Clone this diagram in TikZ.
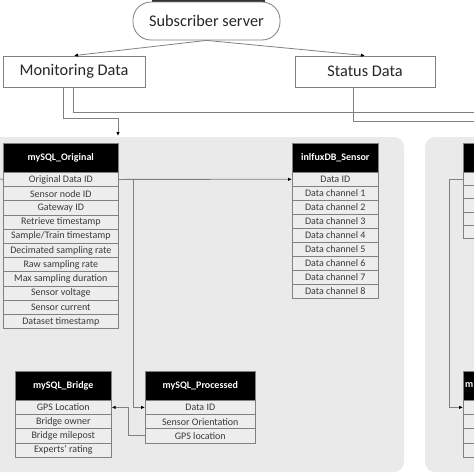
\documentclass[tikz,border=0pt]{standalone}
\usepackage{fontspec}
\setmainfont{Carlito}
\usetikzlibrary{arrows.meta}
\definecolor{panelgray}{HTML}{EAEAEA}
\definecolor{rowgray}{HTML}{EDEDED}
\definecolor{linegray}{HTML}{808080}
\definecolor{txtgray}{HTML}{3A3A3A}
\tikzset{
  conn/.style={draw=linegray, line width=0.8pt},
  tip/.style={-{Latex[length=4pt,width=3.5pt,color=black]}},
  panel/.style={fill=panelgray, rounded corners=10pt},
  hdr/.style={fill=black, draw=linegray, line width=0.6pt, text=white,
    font=\bfseries\fontsize{10}{12}\selectfont, inner sep=0pt, anchor=north west},
  rowbox/.style={fill=rowgray, draw=linegray, line width=0.6pt, text=txtgray,
    font=\fontsize{10}{12}\selectfont, inner sep=0pt, anchor=north west},
  bigbox/.style={draw=linegray, fill=white, font=\fontsize{16.3}{19}\selectfont,
    text=black!85, inner sep=0pt, line width=0.8pt},
}
\newcommand\dbtab[8]{%
  \node[hdr, minimum width=#4pt, minimum height=#5pt] (#1-h) at (#2,#3) {#7};
  \foreach \t [count=\i] in {#8} {
    \node[rowbox, minimum width=#4pt, minimum height=#6pt] (#1-\i) at (#2,{#3+#5+(\i-1)*#6}) {\t};
  }%
}
\begin{document}
\begin{tikzpicture}[x=1pt,y=-1pt]
\useasboundingbox (0,0) rectangle (474,474);
\clip (0,0) rectangle (474,474);

% panels
\fill[panel] (-12,137) rectangle (404,472);
\fill[panel] (425,137) rectangle (500,472);

% top bar (cut off)
\fill[black!80] (152,-3) rectangle (265,2);

% top boxes
\node[bigbox, minimum width=147pt, minimum height=38pt, rounded corners=18pt] (sub) at (206.5,21) {Subscriber server};
\node[bigbox, minimum width=142pt, minimum height=31pt] (mon) at (74,71.5) {Monitoring Data};
\node[bigbox, minimum width=140pt, minimum height=31pt] (stat) at (365,71.5) {Status Data};

% tables
\dbtab{orig}{3}{143}{115}{29}{14.2}{mySQL\_Original}{Original Data ID,Sensor node ID,Gateway ID,Retrieve timestamp,Sample/Train timestamp,Decimated sampling rate,Raw sampling rate,Max sampling duration,Sensor voltage,Sensor current,Dataset timestamp}
\dbtab{infl}{292}{143}{86}{29}{14}{inlfuxDB\_Sensor}{Data ID,Data channel 1,Data channel 2,Data channel 3,Data channel 4,Data channel 5,Data channel 6,Data channel 7,Data channel 8}
\dbtab{proc}{145}{371}{110}{29}{14.2}{mySQL\_Processed}{Data ID,Sensor Orientation,GPS location}
\dbtab{brg}{15}{371}{96}{29}{14.2}{mySQL\_Bridge}{GPS Location,Bridge owner,Bridge milepost,Experts' rating}
\dbtab{ra}{463}{143}{100}{29}{13.2}{}{{},{},{},{},{}}
\dbtab{rb}{463}{371}{100}{29}{14.2}{}{{},{},{},{}}
\node[anchor=west, text=white, font=\bfseries\fontsize{10}{12}\selectfont, inner sep=0pt] (rbt) at (465,385.5) {m};

% coordinates
\coordinate (m1) at (118,136);
\coordinate (e1) at (474,112);
\coordinate (e2) at (474,121);
\coordinate (e3) at (0,179);
\coordinate (j1) at (133,0);
\coordinate (j2) at (128,0);
\coordinate (j3) at (449,0);

% connectors
\draw[conn,tip] (sub.south) -- (mon.north);
\draw[conn,tip] (sub.south) -- (stat.north);
\draw[conn,tip] ([xshift=-11pt]mon.south) -- ++(0,31) -| (m1);
\draw[conn] ([xshift=-1pt]mon.south) |- (e1);
\draw[conn] ([xshift=-12pt]stat.south) |- (e2);
\draw[conn] (e3) -- (orig-1.west);
\draw[conn,tip] (orig-1.east) -- (infl-1.west);
\draw[conn,tip] (orig-1.east -| j1) |- (proc-1.west);
\draw[conn,tip] (proc-3.west) -- (proc-3.west -| j2) |- (brg-1.east);
\draw[conn,tip] (ra-1.west) -- (ra-1.west -| j3) |- (rb-1.west);
\end{tikzpicture}
\end{document}
